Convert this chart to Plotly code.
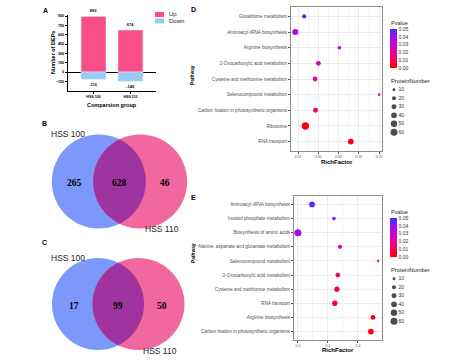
import numpy as np
import plotly.graph_objects as go

W, H = 474, 364
def px(x): return x / W
def py(y): return 1 - y / H

SANS = "Arial, Liberation Sans, sans-serif"
SERIF = "Times New Roman, Liberation Serif, serif"

# ---------------- data ----------------
groups = ["HSS 100", "HSS 110"]
up_counts = [893, 674]
down_counts = [-116, -149]
a_ticks = [-150, 0, 150, 300, 450, 600, 750, 900]

venn_names = ["HSS 100", "HSS 110"]
venn_b = [265, 628, 46]
venn_c = [17, 99, 50]

d_paths = ["Glutathione metabolism", "Aminoacyl-tRNA biosynthesis", "Arginine biosynthesis",
           "2-Oxocarboxylic acid metabolism", "Cysteine and methionine metabolism",
           "Selenocompound metabolism", "Carbon fixation in photosynthetic organisms",
           "Ribosome", "RNA transport"]
d_rich = [0.565, 0.543, 0.652, 0.600, 0.592, 0.750, 0.593, 0.568, 0.680]
d_p = [0.045, 0.036, 0.030, 0.025, 0.021, 0.022, 0.013, 0.003, 0.002]
d_n = [22, 44, 16, 28, 28, 8, 30, 66, 40]
d_xticks = [0.55, 0.60, 0.65, 0.70, 0.75]

e_paths = ["Aminoacyl-tRNA biosynthesis", "Inositol phosphate metabolism",
           "Biosynthesis of amino acids", "Alanine, aspartate and glutamate metabolism",
           "Selenocompound metabolism", "2-Oxocarboxylic acid metabolism",
           "Cysteine and methionine metabolism", "RNA transport", "Arginine biosynthesis",
           "Carbon fixation in photosynthetic organisms"]
e_rich = [0.447, 0.520, 0.400, 0.540, 0.667, 0.533, 0.530, 0.523, 0.650, 0.643]
e_p = [0.046, 0.042, 0.036, 0.027, 0.018, 0.012, 0.009, 0.006, 0.004, 0.002]
e_n = [40, 16, 60, 22, 7, 28, 32, 36, 28, 40]
e_xticks = [0.4, 0.5, 0.6]

size_breaks = [10, 20, 30, 40, 50, 60]
p_ticks = [0.00, 0.01, 0.02, 0.03, 0.04, 0.05]

# ---------------- styles ----------------
UP_COL = "rgb(250,78,136)"
DOWN_COL = "rgb(150,202,245)"
BLUE_V = "rgb(124,152,250)"
PINK_V = "rgb(240,104,158)"
LENS_V = "rgb(160,52,158)"
PSCALE = [[0, "#FF0000"], [0.3, "#F2007A"], [0.55, "#D400C8"], [0.8, "#9A10F0"], [1, "#3535FF"]]
SIZEREF = 2 * 60 / 7.0 ** 2

fig = go.Figure()

# ---------------- Panel A ----------------
fig.add_trace(go.Bar(x=groups, y=up_counts, marker_color=UP_COL, width=0.676,
                     text=[str(v) for v in up_counts], textposition="outside",
                     textfont=dict(size=4, family=SANS, color="black", weight="bold"),
                     cliponaxis=False, xaxis="x", yaxis="y", showlegend=False))
fig.add_trace(go.Bar(x=groups, y=down_counts, marker_color=DOWN_COL, width=0.676,
                     text=[str(v) for v in down_counts], textposition="outside",
                     textfont=dict(size=4, family=SANS, color="black", weight="bold"),
                     cliponaxis=False, xaxis="x", yaxis="y", showlegend=False))

# ---------------- Venn B / C ----------------
D_OFF = 0.44
def lens_path(d):
    phi0 = np.arccos(d)
    t1 = np.linspace(-phi0, phi0, 60)
    t2 = np.linspace(np.pi - phi0, np.pi + phi0, 60)
    xs = np.concatenate([-d + np.cos(t1), d + np.cos(t2)])
    ys = np.concatenate([np.sin(t1), np.sin(t2)])
    return "M " + " L ".join(f"{a:.4f},{b:.4f}" for a, b in zip(xs, ys)) + " Z"

shapes = []
annotations = []
for ax, counts in (("2", venn_b), ("3", venn_c)):
    xr, yr = "x" + ax, "y" + ax
    shapes.append(dict(type="circle", xref=xr, yref=yr, x0=-D_OFF - 1, x1=-D_OFF + 1, y0=-1, y1=1,
                       fillcolor=BLUE_V, line=dict(width=0), layer="below"))
    shapes.append(dict(type="circle", xref=xr, yref=yr, x0=D_OFF - 1, x1=D_OFF + 1, y0=-1, y1=1,
                       fillcolor=PINK_V, line=dict(width=0), layer="below"))
    shapes.append(dict(type="path", xref=xr, yref=yr, path=lens_path(D_OFF),
                       fillcolor=LENS_V, line=dict(width=0), layer="below"))
    for xpos, val in zip([-0.96, 0.0, 0.96], counts):
        annotations.append(dict(x=xpos, y=-0.04, xref=xr, yref=yr, text=str(val), showarrow=False,
                                font=dict(family=SERIF, size=9.5, color="black", weight="bold")))
    annotations.append(dict(x=-1.09, y=1.01, xref=xr, yref=yr, text=venn_names[0], showarrow=False,
                            font=dict(family=SANS, size=8.5, color="#222")))
    annotations.append(dict(x=0.91, y=-1.02, xref=xr, yref=yr, text=venn_names[1], showarrow=False,
                            font=dict(family=SANS, size=8.5, color="#222")))

# ---------------- Panels D / E ----------------
def add_dots(x, y, p, n, xa, ya, cax):
    fig.add_trace(go.Scatter(x=x, y=y, mode="markers", xaxis=xa, yaxis=ya, showlegend=False,
                             cliponaxis=False,
                             marker=dict(color=p, coloraxis=cax, size=n, sizemode="area",
                                         sizeref=SIZEREF, line=dict(width=0), opacity=1)))

add_dots(d_rich, d_paths, d_p, d_n, "x4", "y4", "coloraxis")
add_dots(e_rich, e_paths, e_p, e_n, "x5", "y5", "coloraxis2")

# size legends
for xa, ya in (("x6", "y6"), ("x7", "y7")):
    fig.add_trace(go.Scatter(x=[8] * len(size_breaks), y=list(range(len(size_breaks))), mode="markers",
                             xaxis=xa, yaxis=ya, showlegend=False, cliponaxis=False,
                             marker=dict(color="black", size=size_breaks, sizemode="area",
                                         sizeref=SIZEREF, line=dict(width=0))))
    fig.add_trace(go.Scatter(x=[12.5] * len(size_breaks), y=list(range(len(size_breaks))), mode="text",
                             text=[str(s) for s in size_breaks], textposition="middle right",
                             textfont=dict(size=5, family=SANS, color="#333"),
                             xaxis=xa, yaxis=ya, showlegend=False, cliponaxis=False))

def cbar(ytop, ybot):
    return dict(x=px(390), xanchor="left", y=py((ytop + ybot) / 2), yanchor="middle",
                lenmode="pixels", len=ybot - ytop, thickness=7, thicknessmode="pixels",
                outlinewidth=0, ticks="", tickvals=p_ticks, ticktext=[f"{v:.2f}" for v in p_ticks],
                tickfont=dict(size=5, family=SANS, color="#333"), xpad=0, ypad=0)

# ---------------- layout ----------------
def dom_x(a, b): return [px(a), px(b)]
def dom_y(top, bot): return [py(bot), py(top)]

grid_col = "#EBEBEB"
def dot_xaxis(dom, rng, ticks, anchor, fmt):
    return dict(domain=dom, range=rng, anchor=anchor, tickvals=ticks, ticktext=[fmt.format(t) for t in ticks],
                showgrid=True, gridcolor=grid_col, gridwidth=0.6, zeroline=False,
                minor=dict(showgrid=True, gridcolor="#F4F4F4", gridwidth=0.4,
                           tickvals=[(ticks[i] + ticks[i + 1]) / 2 for i in range(len(ticks) - 1)]),
                showline=True, linecolor="#8a8a8a", linewidth=0.8, mirror=True,
                ticks="outside", ticklen=2, tickwidth=0.5, tickcolor="#555",
                tickfont=dict(size=3.5, family=SANS, color="#555"))

def dot_yaxis(dom, cats, anchor):
    return dict(domain=dom, anchor=anchor, type="category", categoryorder="array", categoryarray=cats,
                range=[len(cats) - 1 + 0.6, -0.6], showgrid=True, gridcolor=grid_col, gridwidth=0.6,
                zeroline=False, showline=True, linecolor="#8a8a8a", linewidth=0.8, mirror=True,
                ticks="outside", ticklen=2, tickwidth=0.5, tickcolor="#555",
                tickfont=dict(size=4.6, family=SANS, color="#4D4D4D"))

def legend_axes(top, bot, anchor):
    n = len(size_breaks)
    span = bot - top
    step = 8.5
    pad = (span - step * (n - 1)) / 2 / step
    return (dict(domain=dom_x(386, 420), range=[0, 34], visible=False, anchor=anchor[1]),
            dict(domain=dom_y(top, bot), range=[n - 1 + pad, -pad], visible=False, anchor=anchor[0]))

lx6, ly6 = legend_axes(86, 136, ("x6", "y6"))
lx7, ly7 = legend_axes(275, 325, ("x7", "y7"))

venn_b_dom = (dom_x(119.5 - 80, 119.5 + 80), dom_y(181.5 - 58, 181.5 + 58), 47)
venn_c_dom = (dom_x(118.25 - 80, 118.25 + 80), dom_y(304 - 58, 304 + 58), 46)

fig.update_layout(
    width=W, height=H, margin=dict(l=0, r=0, t=0, b=0),
    paper_bgcolor="white", plot_bgcolor="white", barmode="relative",
    font=dict(family=SANS),
    xaxis=dict(domain=dom_x(68, 156), range=[-0.69, 1.69], anchor="y",
               showline=True, linecolor="black", linewidth=1, ticks="outside", ticklen=2,
               tickcolor="black", tickfont=dict(size=3.6, family=SANS, color="black", weight="bold")),
    yaxis=dict(domain=dom_y(15, 91), range=[-305, 916], anchor="x", tickvals=a_ticks,
               showline=True, linecolor="black", linewidth=1, ticks="outside", ticklen=2,
               tickcolor="black", showgrid=False, zeroline=True, zerolinecolor="black", zerolinewidth=1,
               tickfont=dict(size=3.8, family=SANS, color="black", weight="bold")),
    xaxis2=dict(domain=venn_b_dom[0], range=[-80 / venn_b_dom[2], 80 / venn_b_dom[2]], visible=False, anchor="y2"),
    yaxis2=dict(domain=venn_b_dom[1], range=[-58 / venn_b_dom[2], 58 / venn_b_dom[2]], visible=False, anchor="x2"),
    xaxis3=dict(domain=venn_c_dom[0], range=[-80 / venn_c_dom[2], 80 / venn_c_dom[2]], visible=False, anchor="y3"),
    yaxis3=dict(domain=venn_c_dom[1], range=[-58 / venn_c_dom[2], 58 / venn_c_dom[2]], visible=False, anchor="x3"),
    xaxis4=dot_xaxis(dom_x(291, 382), [0.5325, 0.757], d_xticks, "y4", "{:.2f}"),
    yaxis4=dot_yaxis(dom_y(7, 151), d_paths, "x4"),
    xaxis5=dot_xaxis(dom_x(294, 382), [0.387, 0.68], e_xticks, "y5", "{:.1f}"),
    yaxis5=dot_yaxis(dom_y(196, 340), e_paths, "x5"),
    xaxis6=lx6, yaxis6=ly6, xaxis7=lx7, yaxis7=ly7,
    coloraxis=dict(cmin=0, cmax=0.05, colorscale=PSCALE, colorbar=cbar(29, 68)),
    coloraxis2=dict(cmin=0, cmax=0.05, colorscale=PSCALE, colorbar=cbar(218, 257)),
)

# Panel A legend swatches
shapes.append(dict(type="rect", xref="paper", yref="paper", x0=px(155), x1=px(164), y0=py(17), y1=py(12),
                   fillcolor=UP_COL, line=dict(width=0)))
shapes.append(dict(type="rect", xref="paper", yref="paper", x0=px(155), x1=px(164), y0=py(23.5), y1=py(18.5),
                   fillcolor=DOWN_COL, line=dict(width=0)))

def txt(x, y, s, size, bold=False, anchor="center", angle=0, color="black", family=SANS):
    annotations.append(dict(x=px(x), y=py(y), xref="paper", yref="paper", text=s, showarrow=False,
                            xanchor=anchor, yanchor="middle", textangle=angle,
                            font=dict(size=size, family=family, color=color,
                                      weight="bold" if bold else "normal")))

txt(167, 14.5, "Up", 6, anchor="left", color="#222")
txt(167, 21, "Down", 6, anchor="left", color="#222")
txt(112, 105, "Comparsion group", 5.5, bold=True)
txt(53, 53, "Number of DEPs", 5.5, bold=True, angle=-90)
txt(336.5, 162, "RichFactor", 6, bold=True)
txt(338, 350, "RichFactor", 6, bold=True)
txt(193, 75, "Pathway", 4.8, bold=True, angle=-90)
txt(193, 253, "Pathway", 4.8, bold=True, angle=-90)
txt(389, 23, "Pvalue", 5.5, anchor="left", color="#222")
txt(389, 212, "Pvalue", 5.5, anchor="left", color="#222")
txt(389, 81, "ProteinNumber", 5.8, anchor="left", color="#222")
txt(389, 270, "ProteinNumber", 5.8, anchor="left", color="#222")
for lab, x, y in (("A", 45, 10), ("B", 44, 123), ("C", 44, 243), ("D", 193, 9), ("E", 193, 197)):
    txt(x, y, lab, 7, bold=True)

fig.update_layout(shapes=shapes, annotations=annotations)
fig.write_html("out.html", config={"displayModeBar": False},
               post_script="document.body.style.margin='0px';")
